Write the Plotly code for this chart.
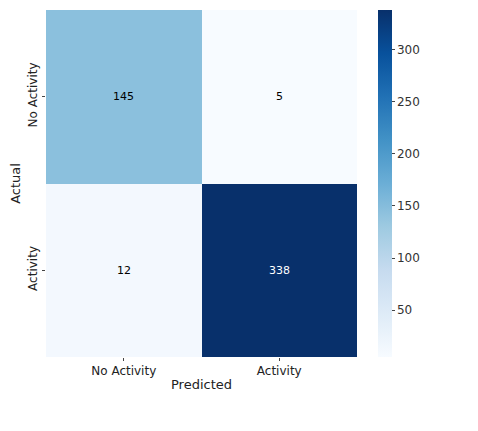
import plotly.graph_objects as go

labels = ["No Activity", "Activity"]
counts = [[145, 5], [12, 338]]

blues = [[0.0, "#f7fbff"], [0.125, "#deebf7"], [0.25, "#c6dbef"], [0.375, "#9ecae1"],
         [0.5, "#6baed6"], [0.625, "#4292c6"], [0.75, "#2171b5"], [0.875, "#08519c"],
         [1.0, "#08306b"]]

zmin = min(min(r) for r in counts)
zmax = max(max(r) for r in counts)
text_colors = []
for row in counts:
    text_colors.append(["white" if v > (zmin + zmax) / 2 else "black" for v in row])

fig = go.Figure(go.Heatmap(
    z=counts, x=labels, y=labels, colorscale=blues, zmin=zmin, zmax=zmax,
    colorbar=dict(x=1.067, xanchor="left", xpad=0, ypad=0, y=0, yanchor="bottom", len=1,
                  lenmode="fraction", thickness=14, outlinewidth=0,
                  tickvals=[50, 100, 150, 200, 250, 300],
                  ticks="outside", ticklen=3, tickfont=dict(size=12, color="#333")),
))

for i, row in enumerate(counts):
    for j, v in enumerate(row):
        fig.add_annotation(x=labels[j], y=labels[i], text=str(v), showarrow=False,
                           font=dict(size=11, color=text_colors[i][j]))

fig.update_layout(
    width=478, height=431,
    margin=dict(l=38, r=129, t=2, b=82),
    paper_bgcolor="white", plot_bgcolor="white",
    font=dict(family="DejaVu Sans", color="#222"),
    xaxis=dict(title=dict(text="Predicted", font=dict(size=13), standoff=2),
               tickfont=dict(size=12), ticks="outside", ticklen=3, showgrid=False),
    yaxis=dict(title=dict(text="Actual", font=dict(size=13), standoff=6),
               tickfont=dict(size=12), ticks="outside", ticklen=3, tickangle=-90,
               autorange="reversed", showgrid=False),
)

fig.write_html("out.html")
